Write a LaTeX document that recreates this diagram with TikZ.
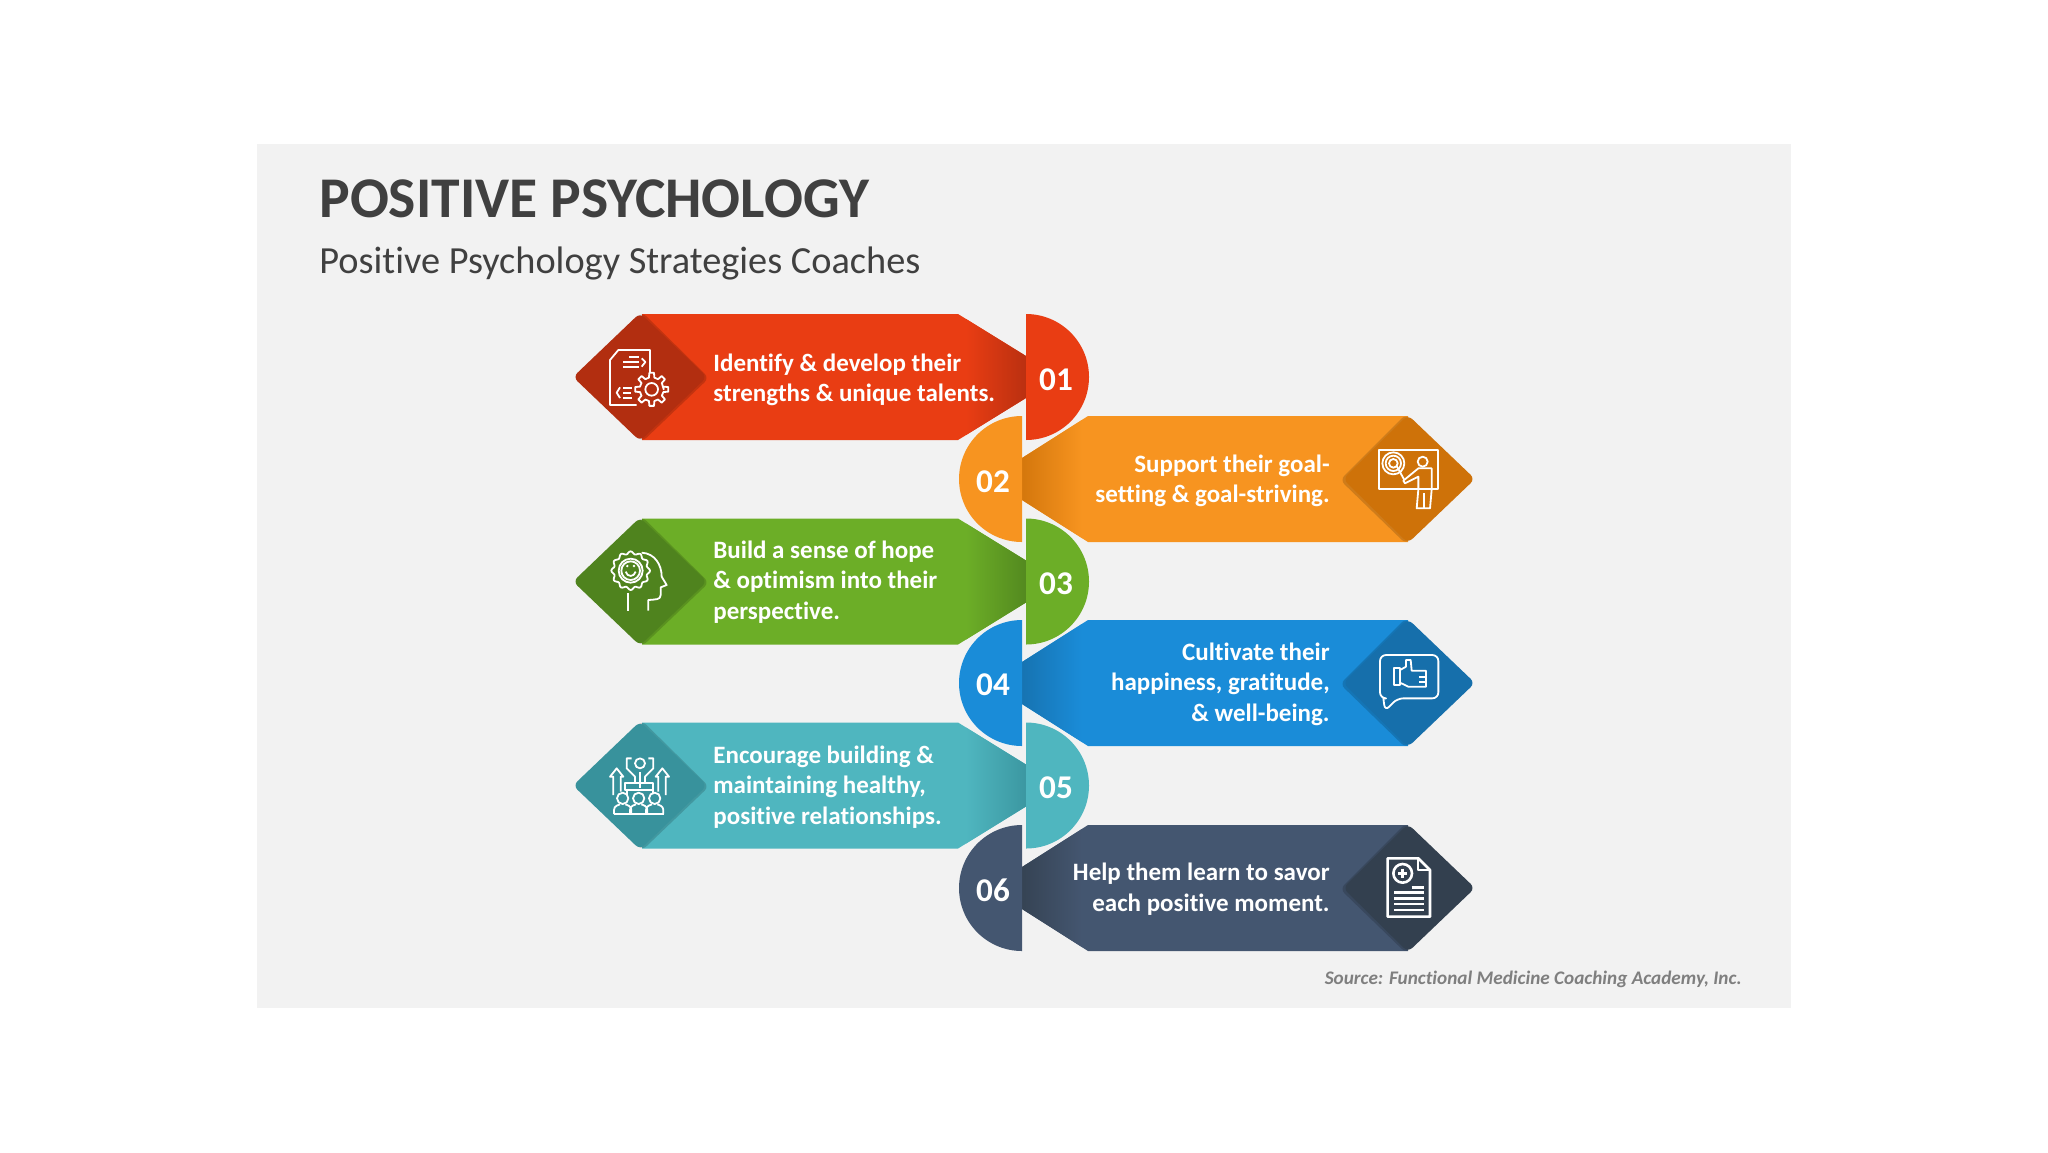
\documentclass[tikz,border=0pt]{standalone}
\usepackage{fontspec}
\setmainfont[Ligatures=NoCommon]{Carlito}
\usepackage{tikz}
\definecolor{panelgray}{HTML}{F2F2F2}
\definecolor{inkgray}{HTML}{404040}
\definecolor{sourcegray}{HTML}{7F7F7F}
\definecolor{redmain}{HTML}{E93D13}
\definecolor{reddeep}{HTML}{B22E10}
\definecolor{orangemain}{HTML}{F79420}
\definecolor{orangedeep}{HTML}{CE7209}
\definecolor{greenmain}{HTML}{6CAE27}
\definecolor{greendeep}{HTML}{4F831E}
\definecolor{bluemain}{HTML}{1A8CD8}
\definecolor{bluedeep}{HTML}{166FAB}
\definecolor{tealmain}{HTML}{4FB6BF}
\definecolor{tealdeep}{HTML}{38929C}
\definecolor{navymain}{HTML}{445670}
\definecolor{navydeep}{HTML}{33404F}
\tikzset{
  banner left/.pic={
    \tikzset{/banner/.cd,#1}
    \fill[fill=\bannermain] (642,-63) -- (958,-63) -- (1026,-21) -- (1026,21) -- (958,63) -- (642,63) -- cycle;
    \shade[left color=\bannermain,right color=\bannerdeep!85!\bannermain] (966,-58) -- (1026,-21) -- (1026,21) -- (966,58) -- cycle;
    \fill[black,opacity=.16,rounded corners=3pt] (576,1) -- (642,-65) -- (709,1) -- (642,65) -- cycle;
    \fill[fill=\bannerdeep,rounded corners=3pt] (573,0) -- (640,-64) -- (707,0) -- (640,64) -- cycle;
    \fill[fill=\bannermain] (1026,-63) arc (-90:90:63) -- cycle;
  },
  banner right/.pic={
    \tikzset{/banner/.cd,#1}
    \fill[fill=\bannermain] (1022,-21) -- (1088,-63) -- (1408,-63) -- (1408,63) -- (1088,63) -- (1022,21) -- cycle;
    \shade[left color=\bannerdeep!85!\bannermain,right color=\bannermain] (1022,-21) -- (1082,-59) -- (1082,59) -- (1022,21) -- cycle;
    \fill[black,opacity=.16,rounded corners=3pt] (1340,1) -- (1406,-65) -- (1472,1) -- (1406,65) -- cycle;
    \fill[fill=\bannerdeep,rounded corners=3pt] (1343,0) -- (1408,-64) -- (1475,0) -- (1408,64) -- cycle;
    \fill[fill=\bannermain] (1022,-63) arc (-90:-270:63) -- cycle;
  },
  /banner/.search also={/tikz},
  /banner/.cd,
  main/.store in=\bannermain,
  deep/.store in=\bannerdeep,
  main=redmain,
  deep=reddeep,
}

\begin{document}
\begin{tikzpicture}[x=0.5pt,y=-0.5pt]

\tikzset{bannertext/.style = {text=white,inner sep=0pt,font=\fontsize{12.5pt}{15.2pt}\selectfont\bfseries}}
\tikzset{numtext/.style = {text=white,inner sep=0pt,font=\fontsize{16.6pt}{20pt}\selectfont\bfseries}}
\tikzset{iconat/.style = {shift={#1},x=0.16667pt,y=-0.16667pt}}
\tikzset{iconline/.style = {draw=white,line width=0.9pt,line join=round}}

\useasboundingbox (0,0) rectangle (2048,1152);
\fill[white] (0,0) rectangle (2048,1152);
\fill[panelgray] (256.5,143.5) rectangle (1791,1008);

\node[anchor=base west,inner sep=0pt,text=inkgray,font=\fontsize{28.8pt}{32pt}\selectfont\bfseries] (title) at (319,217) {POSITIVE PSYCHOLOGY};
\node[anchor=base west,inner sep=0pt,text=inkgray,font=\fontsize{19.17pt}{22pt}\selectfont] (subtitle) at (319,273) {Positive Psychology Strategies Coaches};
\node[anchor=base east,inner sep=0pt,text=sourcegray,font=\fontsize{9.6pt}{12pt}\selectfont\bfseries\itshape] (source) at (1742,984) {Source: Functional Medicine Coaching Academy, Inc.};

%banners
\pic at (0,377) {banner left={main=redmain,deep=reddeep}};
\pic at (0,479) {banner right={main=orangemain,deep=orangedeep}};
\pic at (0,581.5) {banner left={main=greenmain,deep=greendeep}};
\pic at (0,683) {banner right={main=bluemain,deep=bluedeep}};
\pic at (0,785.5) {banner left={main=tealmain,deep=tealdeep}};
\pic at (0,888) {banner right={main=navymain,deep=navydeep}};

%numbers
\node[numtext] (n1) at (1056,380) {01};
\node[numtext] (n2) at (993,482) {02};
\node[numtext] (n3) at (1056,584) {03};
\node[numtext] (n4) at (993,685) {04};
\node[numtext] (n5) at (1056,788) {05};
\node[numtext] (n6) at (993,890) {06};

%texts
\node[bannertext,anchor=west,align=left] (t1) at (713,380) {Identify \& develop their\\strengths \& unique talents.};
\node[bannertext,anchor=east,align=right] (t2) at (1330,481) {Support their goal-\\setting \& goal-striving.};
\node[bannertext,anchor=west,align=left] (t3) at (713,582) {Build a sense of hope\\\& optimism into their\\perspective.};
\node[bannertext,anchor=east,align=right] (t4) at (1330,684) {Cultivate their\\happiness, gratitude,\\\& well-being.};
\node[bannertext,anchor=west,align=left] (t5) at (713,787) {Encourage building \&\\maintaining healthy,\\positive relationships.};
\node[bannertext,anchor=east,align=right] (t6) at (1330,889) {Help them learn to savor\\each positive moment.};

%icon 1
\begin{scope}[iconat={(590,330)}]
\draw[iconline] (180,130) -- (180,60) -- (85,60) -- (60,90) -- (60,225) -- (140,225);
\draw[iconline] (118,80) -- (146,80) (100,95) -- (146,95) (100,110) -- (146,110);
\draw[iconline] (155,85) -- (166,96) -- (155,110);
\draw[iconline] (90,172) -- (80,188) -- (90,204);
\draw[iconline] (100,175) -- (125,175) (100,190) -- (122,190) (100,204) -- (125,204);
\draw[iconline,fill=reddeep,shift={(185,178)}] (36,0) \foreach \a in {0,45,...,315} {-- (\a-13:36) -- (\a-8:50) -- (\a+8:50) -- (\a+13:36)} -- cycle;
\draw[iconline] (185,178) circle (19);
\end{scope}

%icon 2
\begin{scope}[iconat={(1350,430)}]
\draw[iconline] (88,60) rectangle (265,178);
\draw[iconline] (130,100) circle (33) (130,100) circle (23) (130,100) circle (13);
\draw[iconline] (140,108) -- (163,150);
\draw[iconline,fill=orangedeep] (160,152) -- (205,115) -- (245,115) -- (245,178) -- (240,235) -- (200,235) -- (205,178) -- (205,140) -- (165,160) -- cycle;
\draw[iconline] (222,190) -- (222,235) (205,178) -- (245,178);
\draw[iconline,fill=orangedeep] (218,95) circle (15);
\end{scope}

%icon 3
\begin{scope}[iconat={(590,530)}]
\draw[iconline] (155,68) .. controls (195,70) and (215,105) .. (215,140) -- (230,165) -- (212,172) -- (212,195) .. controls (212,210) and (195,208) .. (175,210) -- (175,242);
\draw[iconline] (113,190) -- (113,242);
\draw[iconline,fill=greendeep,shift={(122,122)}] plot[domain=0:360,samples=97] (\x:{54+4*cos(12*\x)}) -- cycle;
\draw[iconline] (122,122) circle (36) (122,122) circle (28);
\fill[white] (112,108) circle (4) (132,108) circle (4);
\draw[iconline] (107,125) .. controls (112,142) and (132,142) .. (137,125);
\end{scope}

%icon 4
\begin{scope}[iconat={(1350,635)}]
\draw[iconline,rounded corners=3pt] (100,190) -- (90,190) -- (90,60) -- (265,60) -- (265,190) -- (142,190) -- (105,228) -- (100,190);
\draw[iconline] (133,100) rectangle (150,150);
\draw[iconline] (150,105) -- (168,95) -- (168,75) -- (182,75) -- (185,107) -- (228,107) -- (228,155) -- (175,155) -- (150,143);
\draw[iconline] (208,125) -- (228,125) (208,140) -- (228,140);
\end{scope}

%icon 5
\begin{scope}[iconat={(590,735)}]
\draw[iconline] (150,85) circle (15);
\draw[iconline] (125,70) -- (110,70) -- (110,100) -- (135,125) -- (135,145) (175,70) -- (190,70) -- (190,100) -- (165,125) -- (165,145);
\draw[iconline] (150,112) -- (150,158);
\draw[iconline] (105,145) rectangle (190,165) (110,165) -- (110,182) (190,165) -- (190,182);
\draw[iconline] (70,180) -- (70,125) -- (60,125) -- (80,100) -- (100,125) -- (92,125) -- (92,170);
\draw[iconline] (205,170) -- (205,125) -- (197,125) -- (217,100) -- (237,125) -- (227,125) -- (227,180);
\foreach \hx in {98,146,194} {
  \draw[iconline,fill=tealdeep] (\hx,190) circle (17);
  \draw[iconline] (\hx-26,237) -- (\hx-26,225) .. controls (\hx-26,212) and (\hx-12,210) .. (\hx-8,208) (\hx+26,237) -- (\hx+26,225) .. controls (\hx+26,212) and (\hx+12,210) .. (\hx+8,208);
}
\draw[iconline] (72,237) -- (222,237);
\end{scope}

%icon 6
\begin{scope}[iconat={(1350,840)}]
\draw[iconline,line width=1.3pt] (113,55) -- (205,55) -- (240,90) -- (240,230) -- (113,230) -- cycle;
\draw[iconline] (205,55) -- (205,90) -- (240,90);
\draw[iconline,line width=1.3pt] (158,100) circle (28);
\draw[iconline,line width=1.3pt] (144,100) -- (172,100) (158,86) -- (158,114);
\draw[iconline,line width=1.3pt] (185,143) -- (222,143) (132,158) -- (222,158) (132,175) -- (222,175) (132,192) -- (222,192) (132,210) -- (222,210);
\end{scope}

\end{tikzpicture}
\end{document}
